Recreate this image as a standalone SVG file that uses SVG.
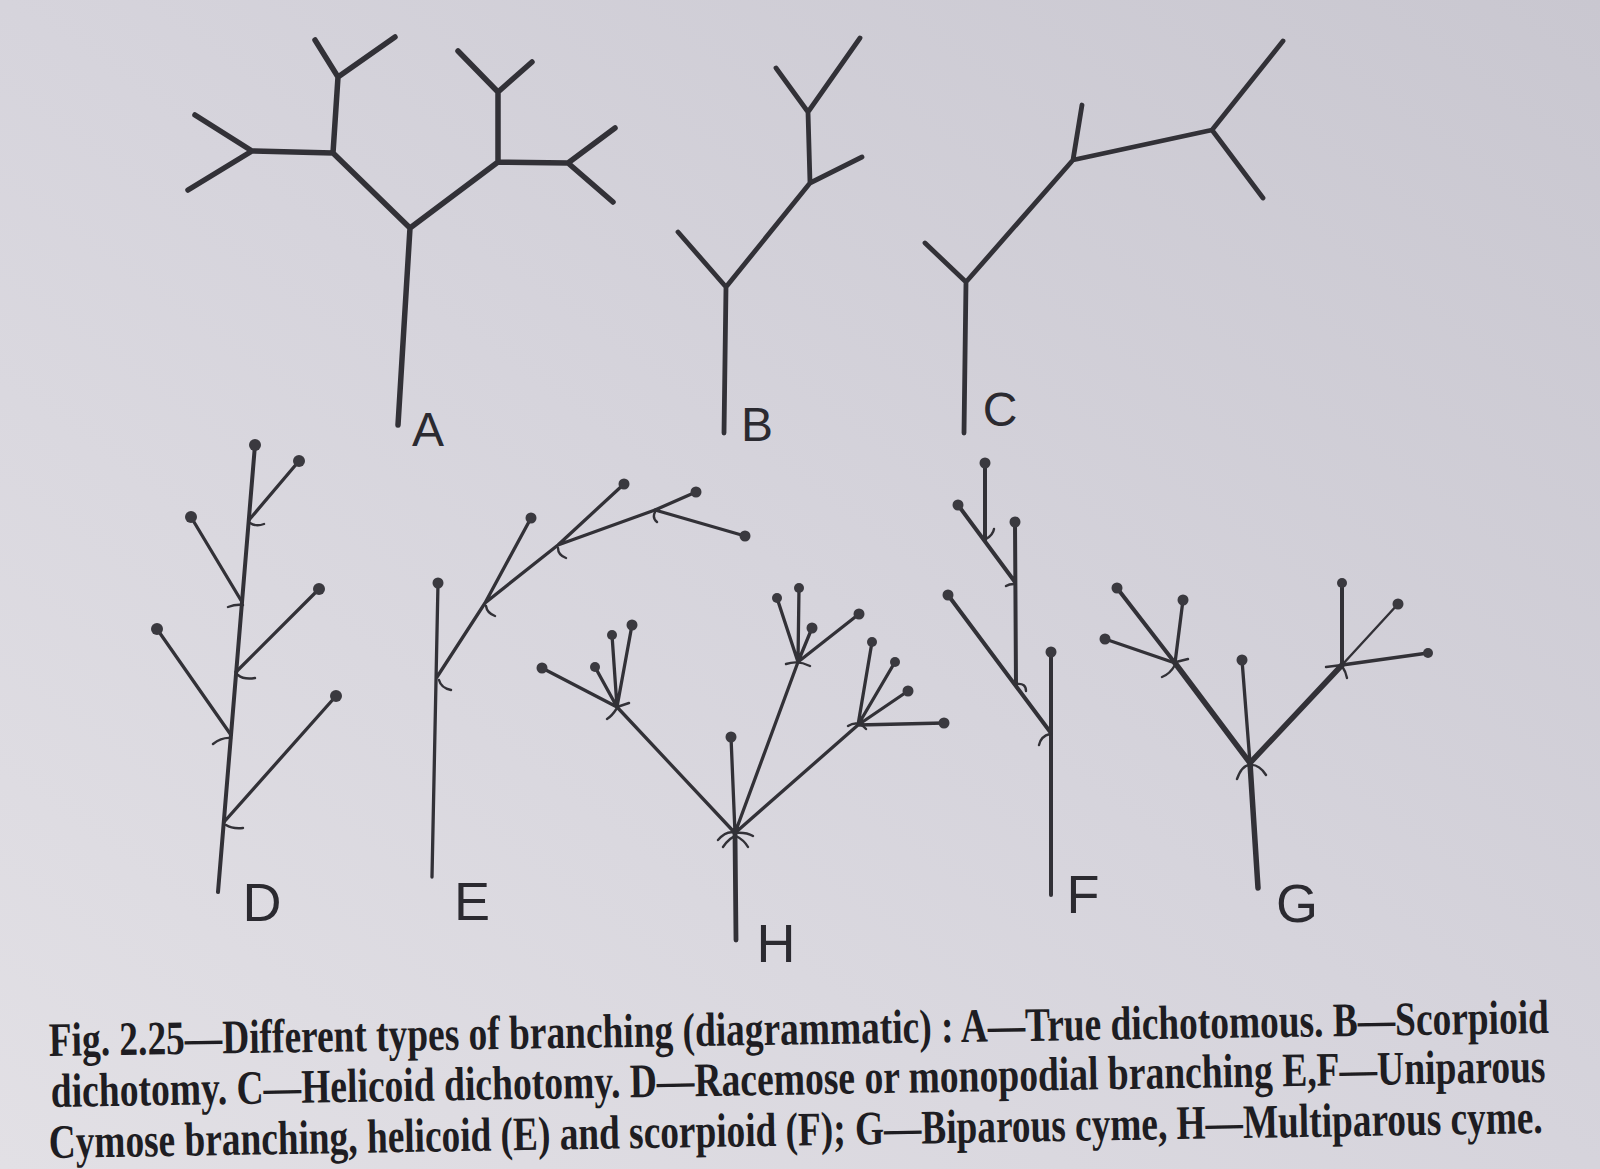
<svg xmlns="http://www.w3.org/2000/svg" width="1600" height="1169" viewBox="0 0 1600 1169">
<defs>
<linearGradient id="paper" x1="1" y1="0" x2="0" y2="1">
<stop offset="0" stop-color="#c9c7d0"/>
<stop offset="0.5" stop-color="#d6d4dc"/>
<stop offset="1" stop-color="#e2e0e5"/>
</linearGradient>
<style>
.br{fill:none;stroke:#323137;stroke-linecap:round;stroke-linejoin:round}
.w6{stroke-width:5.5}
.w5{stroke-width:4.8}
.w4{stroke-width:4}
.w3{stroke-width:3.3}
.bt{fill:none;stroke:#323137;stroke-width:2.4;stroke-linecap:round}
.tip{fill:#3a393f}
.lbl{font-family:"Liberation Sans",Arial,sans-serif;fill:#2b2a30;text-anchor:middle}
.cap{font-family:"Liberation Serif","Times New Roman",serif;font-size:48px;font-weight:bold;fill:#1e1d22}
</style>
</defs>
<rect width="1600" height="1169" fill="url(#paper)"/>

<g id="fig-A">
<path class="br w6" d="M398 425 L410 228 M410 228 L333 153 L252 151 M195 115 L252 151 L188 190 M333 153 L338 77 M315 40 L338 77 L395 37 M410 228 L498 162 L498 92 M458 51 L498 92 L532 62 M498 162 L568 163 M615 128 L568 163 L613 202"/>
<text class="lbl" x="428" y="446" font-size="48">A</text>
</g>

<g id="fig-B">
<path class="br w5" d="M724 433 L726 287 L678 232 M726 287 L810 183 L862 157 M810 183 L808 112 L776 68 M808 112 L860 38"/>
<text class="lbl" x="757" y="441" font-size="48">B</text>
</g>

<g id="fig-C">
<path class="br w5" d="M964 433 L966 282 L925 243 M966 282 L1073 160 L1082 105 M1073 160 L1212 130 L1283 41 M1212 130 L1263 198"/>
<text class="lbl" x="1000" y="426" font-size="48">C</text>
</g>

<g id="fig-D">
<path class="br w4" d="M218 892 L255 445"/>
<path class="br w3" d="M249 520 L299 461 M242 602 L191 517 M236 672 L319 589 M231 735 L157 629 M224 822 L336 696"/>
<g class="tip"><circle cx="255" cy="445" r="6"/><circle cx="299" cy="461" r="6"/><circle cx="191" cy="517" r="6"/><circle cx="319" cy="589" r="6"/><circle cx="157" cy="629" r="6"/><circle cx="336" cy="696" r="6"/></g>
<path class="bt" d="M250 523 Q256 527 264 524 M243 605 Q236 604 228 607 M238 675 Q244 680 255 678 M231 738 Q222 737 213 744 M226 825 Q232 829 243 828"/>
<text class="lbl" x="262" y="921" font-size="54">D</text>
</g>

<g id="fig-E">
<path class="br w3" d="M432 877 L438 583 M437 677 L485 603 L531 518 M485 603 L558 545 L624 484 M558 545 L655 510 L696 492 M655 510 L745 536"/>
<g class="tip"><circle cx="438" cy="583" r="5.5"/><circle cx="531" cy="518" r="5.5"/><circle cx="624" cy="484" r="5.5"/><circle cx="696" cy="492" r="5.5"/><circle cx="745" cy="536" r="5.5"/></g>
<path class="bt" d="M439 680 Q441 688 451 690 M486 606 Q487 613 495 616 M558 548 Q558 555 566 558 M655 512 Q652 518 657 522"/>
<text class="lbl" x="472" y="920" font-size="54">E</text>
</g>

<g id="fig-H">
<path class="br w5" d="M736 940 L735 833"/>
<path class="br w3" d="M735 833 L731 737 M735 833 L617 707 M735 833 L798 662 M735 833 L858 725 M617 707 L542 668 M617 707 L595 667 M617 707 L612 635 M617 707 L632 625 M798 662 L777 598 M798 662 L799 588 M798 662 L812 628 M798 662 L859 614 M858 725 L872 642 M858 725 L895 662 M858 725 L908 691 M858 725 L944 723"/>
<g class="tip"><circle cx="731" cy="737" r="5.5"/><circle cx="542" cy="668" r="5.5"/><circle cx="595" cy="667" r="5"/><circle cx="612" cy="635" r="5"/><circle cx="632" cy="625" r="5.5"/><circle cx="777" cy="598" r="5"/><circle cx="799" cy="588" r="5"/><circle cx="812" cy="628" r="5.5"/><circle cx="859" cy="614" r="5.5"/><circle cx="872" cy="642" r="5"/><circle cx="895" cy="662" r="5"/><circle cx="908" cy="691" r="5.5"/><circle cx="944" cy="723" r="5.5"/></g>
<path class="bt" d="M617 707 L629 703 M617 708 Q612 716 607 719 M786 664 Q798 660 810 666 M848 726 Q858 720 866 729 M718 840 Q727 830 735 833 Q746 832 753 836 M723 847 Q730 837 736 836 Q744 840 748 847"/>
<text class="lbl" x="776" y="962" font-size="54">H</text>
</g>

<g id="fig-F">
<path class="br w4" d="M1051 895 L1051 652 M1051 733 L948 595 M1016 686 L1015 522 M1015 582 L958 505 M985 541 L985 463"/>
<g class="tip"><circle cx="1051" cy="652" r="5.5"/><circle cx="948" cy="595" r="5.5"/><circle cx="1015" cy="522" r="5.5"/><circle cx="958" cy="505" r="5.5"/><circle cx="985" cy="463" r="5.5"/></g>
<path class="bt" d="M1050 734 Q1041 736 1039 745 M1017 684 Q1026 683 1026 691 M1014 584 Q1009 584 1006 586 M986 539 Q993 535 994 529"/>
<text class="lbl" x="1083" y="913" font-size="54">F</text>
</g>

<g id="fig-G">
<path class="br w6" d="M1258 888 L1250 763 L1175 663 M1250 763 L1342 665"/>
<path class="br w4" d="M1175 663 L1117 588 M1342 665 L1342 583"/>
<path class="br w3" d="M1250 763 L1242 660 M1175 663 L1183 600 M1175 663 L1105 639 M1342 665 L1428 653"/>
<path class="br" stroke-width="2.4" d="M1342 665 L1398 604"/>
<g class="tip"><circle cx="1242" cy="660" r="5.5"/><circle cx="1117" cy="588" r="5.5"/><circle cx="1183" cy="600" r="5.5"/><circle cx="1105" cy="639" r="5.5"/><circle cx="1342" cy="583" r="5"/><circle cx="1398" cy="604" r="5.5"/><circle cx="1428" cy="653" r="5"/></g>
<path class="bt" d="M1237 779 Q1242 765 1250 765 Q1259 764 1266 775 M1176 662 L1188 659 M1175 665 Q1170 674 1162 677 M1326 667 L1342 665 M1342 666 Q1346 672 1347 678"/>
<text class="lbl" x="1297" y="922" font-size="54">G</text>
</g>

<g id="caption">
<text class="cap" transform="translate(49 1056) rotate(-0.88) scale(0.76 1)" x="0" y="0" textLength="1974" lengthAdjust="spacingAndGlyphs">Fig. 2.25—Different types of branching (diagrammatic) : A—True dichotomous. B—Scorpioid</text>
<text class="cap" transform="translate(51 1107) rotate(-0.96) scale(0.76 1)" x="0" y="0" textLength="1967" lengthAdjust="spacingAndGlyphs">dichotomy. C—Helicoid dichotomy. D—Racemose or monopodial branching E,F—Uniparous</text>
<text class="cap" transform="translate(49 1158) rotate(-0.96) scale(0.76 1)" x="0" y="0" textLength="1966" lengthAdjust="spacingAndGlyphs">Cymose branching, helicoid (E) and scorpioid (F); G—Biparous cyme, H—Multiparous cyme.</text>
</g>
</svg>
